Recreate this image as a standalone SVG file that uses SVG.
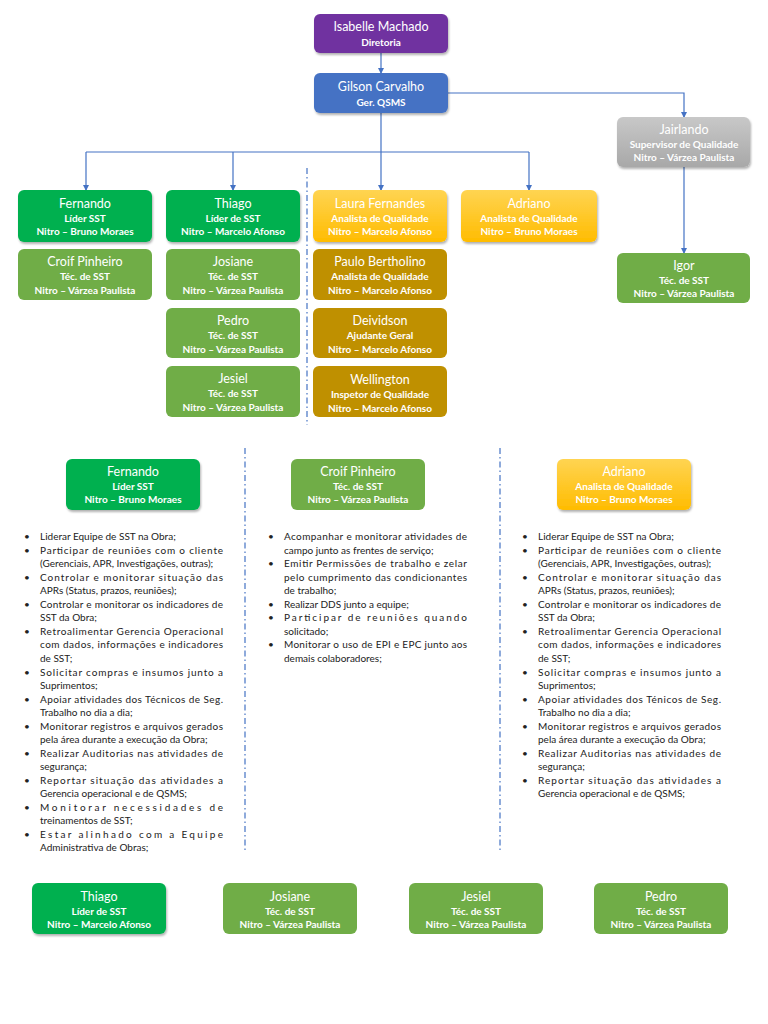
<svg xmlns="http://www.w3.org/2000/svg" width="768" height="1024" viewBox="0 0 768 1024">
<defs>
<style>
.n{font-family:Lato,"Open Sans","Liberation Sans",sans-serif;fill:#fff;text-anchor:middle}
.t{font-size:12.5px}
.s{font-size:10px;font-weight:bold}
.b{font-family:Lato,"Open Sans","Liberation Sans",sans-serif;font-size:10px;fill:#222}
.c{fill:none;stroke:#4472c4;stroke-width:1.2}
.d{fill:none;stroke:#4472c4;stroke-width:1.2;stroke-dasharray:6 3 1.5 3}
</style>
<linearGradient id="gy" x1="0" y1="0" x2="0" y2="1"><stop offset="0" stop-color="#ffd452"/><stop offset="1" stop-color="#ffbc00"/></linearGradient>
<linearGradient id="gg" x1="0" y1="0" x2="0" y2="1"><stop offset="0" stop-color="#c8c8c8"/><stop offset="1" stop-color="#a8a8a8"/></linearGradient>
<marker id="a" viewBox="0 0 6 6" refX="5" refY="3" markerWidth="5" markerHeight="5" orient="auto"><path d="M0,0L6,3L0,6z" fill="#4472c4"/></marker>
<filter id="sh" x="-10%" y="-10%" width="120%" height="130%"><feDropShadow dx="1" dy="2" stdDeviation="1.2" flood-opacity="0.3"/></filter>
</defs>
<rect width="768" height="1024" fill="#fff"/>

<g id="connectors">
<path class="c" d="M381,53V73" marker-end="url(#a)"/>
<path class="c" d="M381,113V190" marker-end="url(#a)"/>
<path class="c" d="M86,152H529"/>
<path class="c" d="M86,152V190" marker-end="url(#a)"/>
<path class="c" d="M233,152V190" marker-end="url(#a)"/>
<path class="c" d="M529,152V190" marker-end="url(#a)"/>
<path class="c" d="M448,93H684V117" marker-end="url(#a)"/>
<path class="c" d="M684,167V253" marker-end="url(#a)"/>
<path class="d" d="M307,168V425"/>
<path class="d" d="M245,448V850"/>
<path class="d" d="M500,448V850"/>
</g>

<g id="isabelle"><rect x="314" y="14" width="134" height="39" rx="6" fill="#7030a0" filter="url(#sh)"/><text class="n t" x="381" y="31">Isabelle Machado</text><text class="n s" x="381" y="46">Diretoria</text></g>
<g id="gilson"><rect x="314" y="73" width="134" height="40" rx="6" fill="#4472c4" filter="url(#sh)"/><text class="n t" x="381" y="91">Gilson Carvalho</text><text class="n s" x="381" y="106">Ger. QSMS</text></g>
<g id="jairlando"><rect x="617" y="117" width="133" height="50" rx="6" fill="url(#gg)" filter="url(#sh)"/><text class="n t" x="684" y="134">Jairlando</text><text class="n s" x="684" y="148">Supervisor de Qualidade</text><text class="n s" x="684" y="161">Nitro – Várzea Paulista</text></g>
<g id="igor"><rect x="617" y="253" width="133" height="50" rx="6" fill="#70ad47"/><text class="n t" x="684" y="270">Igor</text><text class="n s" x="684" y="284">Téc. de SST</text><text class="n s" x="684" y="297">Nitro – Várzea Paulista</text></g>

<g id="fernando"><rect x="18" y="190" width="134" height="52" rx="6" fill="#00b050" filter="url(#sh)"/><text class="n t" x="85" y="208">Fernando</text><text class="n s" x="85" y="222">Líder SST</text><text class="n s" x="85" y="235">Nitro – Bruno Moraes</text></g>
<g id="thiago"><rect x="166" y="190" width="134" height="52" rx="6" fill="#00b050" filter="url(#sh)"/><text class="n t" x="233" y="208">Thiago</text><text class="n s" x="233" y="222">Líder de SST</text><text class="n s" x="233" y="235">Nitro – Marcelo Afonso</text></g>
<g id="laura"><rect x="313" y="190" width="134" height="52" rx="6" fill="url(#gy)" filter="url(#sh)"/><text class="n t" x="380" y="208">Laura Fernandes</text><text class="n s" x="380" y="222">Analista de Qualidade</text><text class="n s" x="380" y="235">Nitro – Marcelo Afonso</text></g>
<g id="adriano"><rect x="461" y="190" width="136" height="52" rx="6" fill="url(#gy)" filter="url(#sh)"/><text class="n t" x="529" y="208">Adriano</text><text class="n s" x="529" y="222">Analista de Qualidade</text><text class="n s" x="529" y="235">Nitro – Bruno Moraes</text></g>

<g id="croif"><rect x="18" y="249" width="134" height="51" rx="6" fill="#70ad47"/><text class="n t" x="85" y="266">Croif Pinheiro</text><text class="n s" x="85" y="280">Téc. de SST</text><text class="n s" x="85" y="294">Nitro – Várzea Paulista</text></g>
<g id="josiane"><rect x="166" y="249" width="134" height="51" rx="6" fill="#70ad47"/><text class="n t" x="233" y="266">Josiane</text><text class="n s" x="233" y="280">Téc. de SST</text><text class="n s" x="233" y="294">Nitro – Várzea Paulista</text></g>
<g id="paulo"><rect x="313" y="249" width="134" height="51" rx="6" fill="#bf9000"/><text class="n t" x="380" y="266">Paulo Bertholino</text><text class="n s" x="380" y="280">Analista de Qualidade</text><text class="n s" x="380" y="294">Nitro – Marcelo Afonso</text></g>
<g id="pedro"><rect x="166" y="308" width="134" height="50" rx="6" fill="#70ad47"/><text class="n t" x="233" y="325">Pedro</text><text class="n s" x="233" y="339">Téc. de SST</text><text class="n s" x="233" y="353">Nitro – Várzea Paulista</text></g>
<g id="deividson"><rect x="313" y="308" width="134" height="50" rx="6" fill="#bf9000"/><text class="n t" x="380" y="325">Deividson</text><text class="n s" x="380" y="339">Ajudante Geral</text><text class="n s" x="380" y="353">Nitro – Marcelo Afonso</text></g>
<g id="jesiel"><rect x="166" y="366" width="134" height="51" rx="6" fill="#70ad47"/><text class="n t" x="233" y="383">Jesiel</text><text class="n s" x="233" y="397">Téc. de SST</text><text class="n s" x="233" y="411">Nitro – Várzea Paulista</text></g>
<g id="wellington"><rect x="313" y="366" width="134" height="51" rx="6" fill="#bf9000"/><text class="n t" x="380" y="384">Wellington</text><text class="n s" x="380" y="398">Inspetor de Qualidade</text><text class="n s" x="380" y="412">Nitro – Marcelo Afonso</text></g>

<g id="fernando2"><rect x="66" y="459" width="134" height="51" rx="6" fill="#00b050" filter="url(#sh)"/><text class="n t" x="133" y="476">Fernando</text><text class="n s" x="133" y="490">Líder SST</text><text class="n s" x="133" y="503">Nitro – Bruno Moraes</text></g>
<g id="croif2"><rect x="291" y="459" width="134" height="51" rx="6" fill="#70ad47"/><text class="n t" x="358" y="476">Croif Pinheiro</text><text class="n s" x="358" y="490">Téc. de SST</text><text class="n s" x="358" y="503">Nitro – Várzea Paulista</text></g>
<g id="adriano2"><rect x="557" y="459" width="134" height="51" rx="6" fill="url(#gy)" filter="url(#sh)"/><text class="n t" x="624" y="476">Adriano</text><text class="n s" x="624" y="490">Analista de Qualidade</text><text class="n s" x="624" y="503">Nitro – Bruno Moraes</text></g>

<g id="col1" class="b">
<text x="24" y="540">•</text><text x="40" y="540">Liderar Equipe de SST na Obra;</text>
<text x="24" y="554">•</text><text x="40" y="554" textLength="183" lengthAdjust="spacing">Participar de reuniões com o cliente</text>
<text x="40" y="567">(Gerenciais, APR, Investigações, outras);</text>
<text x="24" y="581">•</text><text x="40" y="581" textLength="183" lengthAdjust="spacing">Controlar e monitorar situação das</text>
<text x="40" y="594">APRs (Status, prazos, reuniões);</text>
<text x="24" y="608">•</text><text x="40" y="608" textLength="183" lengthAdjust="spacing">Controlar e monitorar os indicadores de</text>
<text x="40" y="621">SST da Obra;</text>
<text x="24" y="635">•</text><text x="40" y="635" textLength="183" lengthAdjust="spacing">Retroalimentar Gerencia Operacional</text>
<text x="40" y="648" textLength="183" lengthAdjust="spacing">com dados, informações e indicadores</text>
<text x="40" y="662">de SST;</text>
<text x="24" y="676">•</text><text x="40" y="676" textLength="183" lengthAdjust="spacing">Solicitar compras e insumos junto a</text>
<text x="40" y="689">Suprimentos;</text>
<text x="24" y="703">•</text><text x="40" y="703" textLength="183" lengthAdjust="spacing">Apoiar atividades dos Técnicos de Seg.</text>
<text x="40" y="716">Trabalho no dia a dia;</text>
<text x="24" y="730">•</text><text x="40" y="730" textLength="183" lengthAdjust="spacing">Monitorar registros e arquivos gerados</text>
<text x="40" y="743">pela área durante a execução da Obra;</text>
<text x="24" y="757">•</text><text x="40" y="757" textLength="183" lengthAdjust="spacing">Realizar Auditorias nas atividades de</text>
<text x="40" y="770">segurança;</text>
<text x="24" y="784">•</text><text x="40" y="784" textLength="183" lengthAdjust="spacing">Reportar situação das atividades a</text>
<text x="40" y="797">Gerencia operacional e de QSMS;</text>
<text x="24" y="811">•</text><text x="40" y="811" textLength="183" lengthAdjust="spacing">Monitorar necessidades de</text>
<text x="40" y="824">treinamentos de SST;</text>
<text x="24" y="838">•</text><text x="40" y="838" textLength="183" lengthAdjust="spacing">Estar alinhado com a Equipe</text>
<text x="40" y="851">Administrativa de Obras;</text>
</g>

<g id="col2" class="b">
<text x="268" y="540">•</text><text x="284" y="540" textLength="183" lengthAdjust="spacing">Acompanhar e monitorar atividades de</text>
<text x="284" y="554">campo junto as frentes de serviço;</text>
<text x="268" y="567">•</text><text x="284" y="567" textLength="183" lengthAdjust="spacing">Emitir Permissões de trabalho e zelar</text>
<text x="284" y="581" textLength="183" lengthAdjust="spacing">pelo cumprimento das condicionantes</text>
<text x="284" y="594">de trabalho;</text>
<text x="268" y="608">•</text><text x="284" y="608">Realizar DDS junto a equipe;</text>
<text x="268" y="621">•</text><text x="284" y="621" textLength="183" lengthAdjust="spacing">Participar de reuniões quando</text>
<text x="284" y="635">solicitado;</text>
<text x="268" y="648">•</text><text x="284" y="648" textLength="183" lengthAdjust="spacing">Monitorar o uso de EPI e EPC junto aos</text>
<text x="284" y="662">demais colaboradores;</text>
</g>

<g id="col3" class="b">
<text x="522" y="540">•</text><text x="538" y="540">Liderar Equipe de SST na Obra;</text>
<text x="522" y="554">•</text><text x="538" y="554" textLength="183" lengthAdjust="spacing">Participar de reuniões com o cliente</text>
<text x="538" y="567">(Gerenciais, APR, Investigações, outras);</text>
<text x="522" y="581">•</text><text x="538" y="581" textLength="183" lengthAdjust="spacing">Controlar e monitorar situação das</text>
<text x="538" y="594">APRs (Status, prazos, reuniões);</text>
<text x="522" y="608">•</text><text x="538" y="608" textLength="183" lengthAdjust="spacing">Controlar e monitorar os indicadores de</text>
<text x="538" y="621">SST da Obra;</text>
<text x="522" y="635">•</text><text x="538" y="635" textLength="183" lengthAdjust="spacing">Retroalimentar Gerencia Operacional</text>
<text x="538" y="648" textLength="183" lengthAdjust="spacing">com dados, informações e indicadores</text>
<text x="538" y="662">de SST;</text>
<text x="522" y="676">•</text><text x="538" y="676" textLength="183" lengthAdjust="spacing">Solicitar compras e insumos junto a</text>
<text x="538" y="689">Suprimentos;</text>
<text x="522" y="703">•</text><text x="538" y="703" textLength="183" lengthAdjust="spacing">Apoiar atividades dos Ténicos de Seg.</text>
<text x="538" y="716">Trabalho no dia a dia;</text>
<text x="522" y="730">•</text><text x="538" y="730" textLength="183" lengthAdjust="spacing">Monitorar registros e arquivos gerados</text>
<text x="538" y="743">pela área durante a execução da Obra;</text>
<text x="522" y="757">•</text><text x="538" y="757" textLength="183" lengthAdjust="spacing">Realizar Auditorias nas atividades de</text>
<text x="538" y="770">segurança;</text>
<text x="522" y="784">•</text><text x="538" y="784" textLength="183" lengthAdjust="spacing">Reportar situação das atividades a</text>
<text x="538" y="797">Gerencia operacional e de QSMS;</text>
</g>

<g id="thiago2"><rect x="32" y="883" width="134" height="51" rx="6" fill="#00b050" filter="url(#sh)"/><text class="n t" x="99" y="901">Thiago</text><text class="n s" x="99" y="915">Líder de SST</text><text class="n s" x="99" y="928">Nitro – Marcelo Afonso</text></g>
<g id="josiane2"><rect x="223" y="883" width="134" height="51" rx="6" fill="#70ad47"/><text class="n t" x="290" y="901">Josiane</text><text class="n s" x="290" y="915">Téc. de SST</text><text class="n s" x="290" y="928">Nitro – Várzea Paulista</text></g>
<g id="jesiel2"><rect x="409" y="883" width="134" height="51" rx="6" fill="#70ad47"/><text class="n t" x="476" y="901">Jesiel</text><text class="n s" x="476" y="915">Téc. de SST</text><text class="n s" x="476" y="928">Nitro – Várzea Paulista</text></g>
<g id="pedro2"><rect x="594" y="883" width="134" height="51" rx="6" fill="#70ad47"/><text class="n t" x="661" y="901">Pedro</text><text class="n s" x="661" y="915">Téc. de SST</text><text class="n s" x="661" y="928">Nitro – Várzea Paulista</text></g>
</svg>
